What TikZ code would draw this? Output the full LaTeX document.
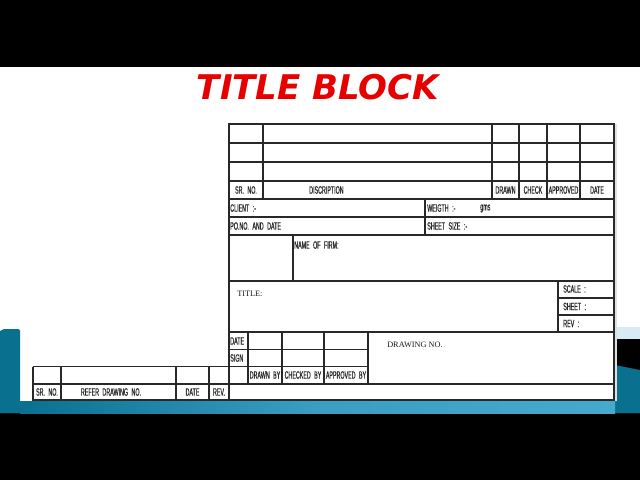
\documentclass[tikz,border=0pt]{standalone}
\usepackage{fontspec}
\setmainfont{Liberation Serif}
\newfontfamily\cadfont[FakeStretch=0.5,FakeBold=0.5]{Liberation Sans}
\newfontfamily\headfont{DejaVu Sans}
\definecolor{teal1}{RGB}{10,112,144}
\definecolor{teal2}{RGB}{70,170,205}
\definecolor{lightb}{RGB}{215,235,242}
\definecolor{gridc}{RGB}{40,40,40}
\definecolor{titred}{RGB}{230,0,0}
\begin{document}
\begin{tikzpicture}[x=0.75pt,y=-0.75pt,
  grid/.style={draw=gridc,line width=1.1pt},
  cad/.style={font={\cadfont\fontsize{8}{9}\selectfont\spaceskip=2.6pt\relax},inner sep=0pt,text=black!85},
  cadw/.style={cad,anchor=west},
  ser/.style={font=\fontsize{6.2}{8}\selectfont,inner sep=0pt,anchor=west,text=black!90}]
\useasboundingbox (0,0) rectangle (640,480);
% background
\fill[black] (0,0) rectangle (640,480);
\fill[white] (0,67) rectangle (640,413);
\fill[teal1] (0,413) -- (0,331) to[out=0,in=180] (4,329) -- (18,329) to[out=0,in=90] (20,331) -- (20,413) -- cycle;
\fill[lightb] (615,327) rectangle (640,339);
\fill[black] (615,339) rectangle (640,370);
\fill[teal1] (615,365) -- (640,370) -- (640,413) -- (615,413) -- cycle;
\shade[left color=teal1,right color=teal2,middle color=teal2!80!teal1] (20,401) rectangle (615,413);
\fill[black!12] (614,124) rectangle (617,401);
% title
\node[font=\headfont\bfseries\itshape\fontsize{25.5}{28}\selectfont,text=titred,inner sep=0pt] (title) at (318,87) {TITLE BLOCK};
% main block grid
\draw[grid] (229,124) rectangle (614,400);
\foreach \y in {143,162,181,199,217,235,281,332,384} \draw[grid] (229,\y) -- (614,\y);
\foreach \x in {263,492,519,547,580} \draw[grid] (\x,124) -- (\x,199);
\draw[grid] (425,199) -- (425,235);
\draw[grid] (293,235) -- (293,281);
\draw[grid] (558,281) -- (558,332);
\draw[grid] (558,298) -- (614,298);
\draw[grid] (558,315) -- (614,315);
\foreach \x in {248,282,324,368} \draw[grid] (\x,332) -- (\x,384);
\draw[grid] (229,349.5) -- (368,349.5);
\draw[grid] (33,366.5) -- (368,366.5);
% left refer table
\draw[grid] (33,366.5) -- (33,400) -- (229,400);
\draw[grid] (33,384) -- (229,384);
\foreach \x in {61,176,209} \draw[grid] (\x,366.5) -- (\x,400);
% texts
\node[cad] (srno) at (246,190) {SR. NO.};
\node[cadw] (desc) at (309,190) {DISCRIPTION};
\node[cad] (drawn) at (505.5,190) {DRAWN};
\node[cad] (check) at (533,190) {CHECK};
\node[cad] (appr) at (563.5,190) {APPROVED};
\node[cad] (date) at (597,190) {DATE};
\node[cadw] (client) at (230,208) {CLIENT :-};
\node[cadw] (weigth) at (427,208) {WEIGTH :-};
\node[cadw] (gms) at (480,208.5) {gms};
\node[cadw] (pono) at (230,226) {PO.NO. AND DATE};
\node[cadw] (ssize) at (427,226) {SHEET SIZE :-};
\node[cadw] (firm) at (294,245) {NAME OF FIRM:};
\node[ser] (tit) at (237,294) {TITLE:};
\node[cadw] (scale) at (563,289) {SCALE :};
\node[cadw] (sheet) at (563,306.5) {SHEET :};
\node[cadw] (rev) at (563,323.5) {REV :};
\node[cadw] (dte2) at (230,341) {DATE};
\node[cadw] (sign) at (230,358) {SIGN};
\node[cad] (dby) at (265,375) {DRAWN BY};
\node[cad] (cby) at (303,375) {CHECKED BY};
\node[cad] (aby) at (346,375) {APPROVED BY};
\node[ser] (dno) at (387,345) {DRAWING NO.};
\node[cad] (lsr) at (47,392) {SR. NO.};
\node[cad] (lref) at (111,392) {REFER DRAWING NO.};
\node[cad] (ldate) at (192.5,392) {DATE};
\node[cad] (lrev) at (219,392) {REV.};
\end{tikzpicture}
\end{document}
